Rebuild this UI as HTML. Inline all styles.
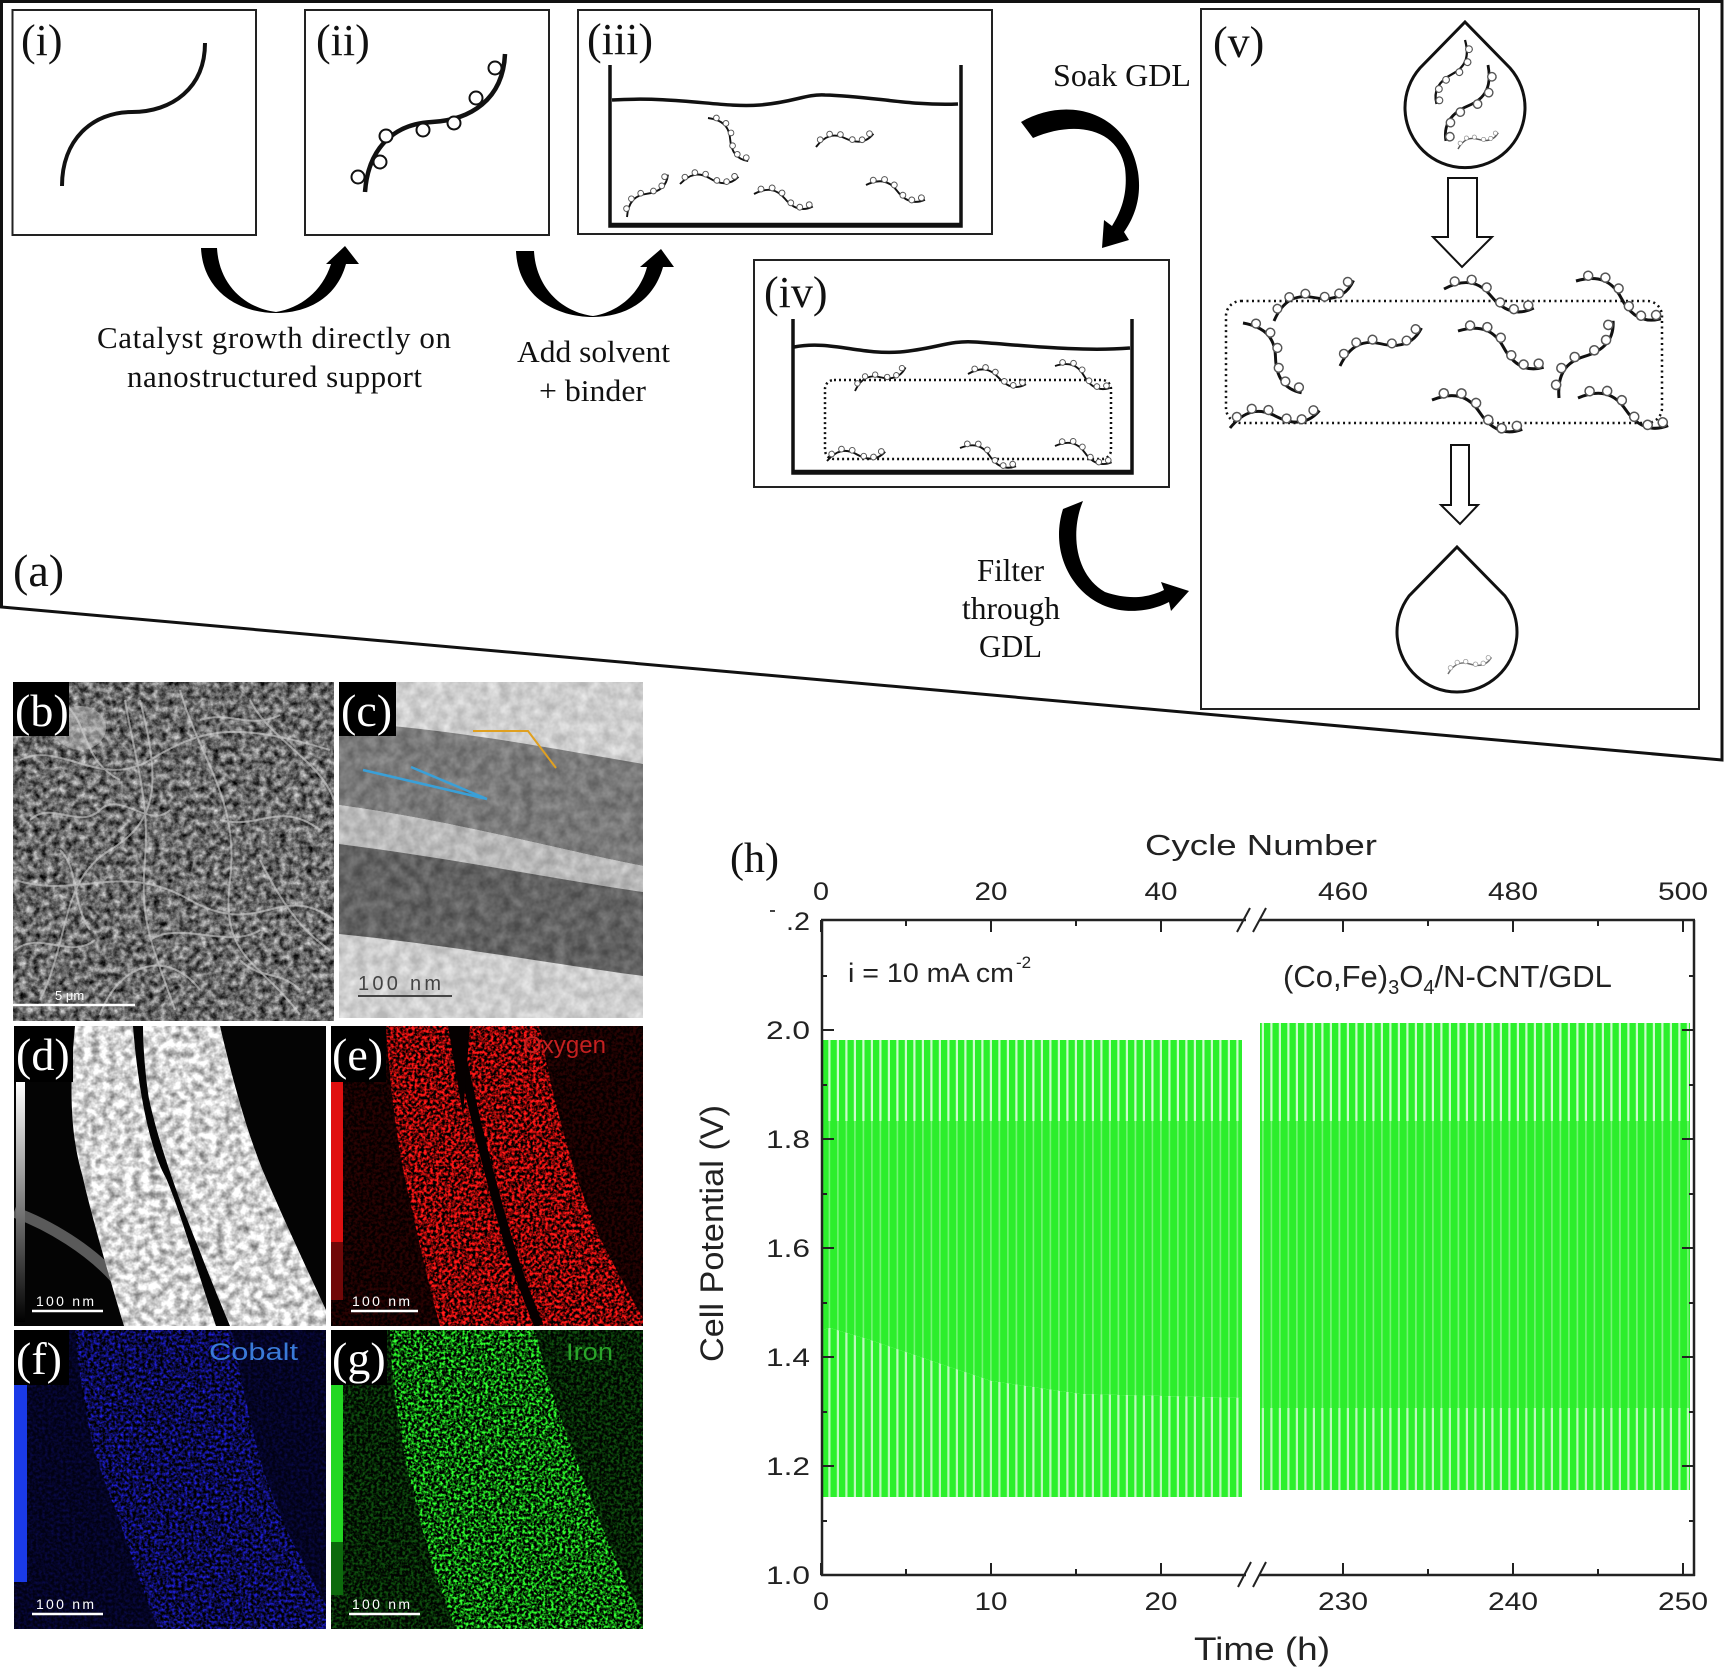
<!DOCTYPE html>
<html><head><meta charset="utf-8"><style>
html,body{margin:0;padding:0;background:#fff;}
svg{display:block;}
.serif{font-family:"Liberation Serif",serif;}
.sans{font-family:"Liberation Sans",sans-serif;}
</style></head><body>
<svg width="1725" height="1680" viewBox="0 0 1725 1680" xmlns="http://www.w3.org/2000/svg">
<defs>
  <filter id="fSem" x="0" y="0" width="1" height="1" color-interpolation-filters="sRGB"><feTurbulence type="fractalNoise" baseFrequency="0.15" numOctaves="4" seed="5"/><feColorMatrix type="matrix" values="1.1 0 0 0 -0.13  1.1 0 0 0 -0.13  1.1 0 0 0 -0.13  0 0 0 0 1"/></filter>
  <filter id="fGray" x="0" y="0" width="1" height="1" color-interpolation-filters="sRGB"><feTurbulence type="fractalNoise" baseFrequency="0.09" numOctaves="3" seed="9"/><feColorMatrix type="matrix" values="1.4 0 0 0 -0.25  1.4 0 0 0 -0.25  1.4 0 0 0 -0.25  0 0 0 0 1"/></filter>
  <filter id="fLight" x="0" y="0" width="1" height="1" color-interpolation-filters="sRGB"><feTurbulence type="fractalNoise" baseFrequency="0.12" numOctaves="3" seed="11"/><feColorMatrix type="matrix" values="1.0 0 0 0 0.33  1.0 0 0 0 0.33  1.0 0 0 0 0.33  0 0 0 0 1"/></filter>
  <filter id="fRed" x="0" y="0" width="1" height="1" color-interpolation-filters="sRGB"><feTurbulence type="fractalNoise" baseFrequency="0.33" numOctaves="2" seed="2"/><feColorMatrix type="matrix" values="3.2 0 0 0 -1.15  0.3 0 0 0 -0.12  0.3 0 0 0 -0.12  0 0 0 0 1"/></filter>
  <filter id="fBlue" x="0" y="0" width="1" height="1" color-interpolation-filters="sRGB"><feTurbulence type="fractalNoise" baseFrequency="0.33" numOctaves="2" seed="4"/><feColorMatrix type="matrix" values="0 0 0.3 0 -0.1  0 0 0.3 0 -0.1  0 0 2.2 0 -0.8  0 0 0 0 1"/></filter>
  <filter id="fGreen" x="0" y="0" width="1" height="1" color-interpolation-filters="sRGB"><feTurbulence type="fractalNoise" baseFrequency="0.35" numOctaves="2" seed="7"/><feColorMatrix type="matrix" values="0 0.6 0 0 -0.25  0 3.2 0 0 -1.25  0 0.6 0 0 -0.25  0 0 0 0 1"/></filter>
  <clipPath id="cb"><rect x="13" y="682" width="321" height="339"/></clipPath>
  <clipPath id="cc"><rect x="339" y="682" width="304" height="336"/></clipPath>
  <clipPath id="cd"><rect x="14" y="1026" width="312" height="300"/></clipPath>
  <clipPath id="ce"><rect x="331" y="1026" width="312" height="300"/></clipPath>
  <clipPath id="cf"><rect x="14" y="1330" width="312" height="299"/></clipPath>
  <clipPath id="cg"><rect x="331" y="1330" width="312" height="299"/></clipPath>
  <clipPath id="cdTubes"><path d="M75,1026 L133,1026 C138,1090 150,1150 166,1178 C180,1210 200,1280 216,1326 L124,1326 C110,1280 90,1210 83,1178 C72,1140 68,1100 75,1026 Z M143,1026 L220,1026 C228,1060 245,1130 266,1178 C282,1215 305,1265 326,1310 L326,1326 L230,1326 C215,1290 205,1265 199,1249 C185,1215 160,1150 149,1099 C146,1080 143,1050 143,1026 Z"/></clipPath>
  <clipPath id="ceBand"><path d="M386,1026 L540,1026 C548,1080 565,1140 577,1178 C590,1215 600,1240 610,1257 C622,1280 635,1305 643,1318 L643,1326 L440,1326 C430,1290 422,1255 419,1241 C410,1200 400,1160 398,1139 C392,1100 388,1060 386,1026 Z"/></clipPath>
  <clipPath id="cfBand"><path d="M75,1330 L232,1330 C245,1400 255,1445 265,1475 C278,1510 290,1540 299,1554 C310,1575 320,1595 326,1605 L326,1629 L158,1629 C145,1595 132,1560 124,1534 C112,1500 100,1470 95,1455 C85,1410 78,1370 75,1330 Z"/></clipPath>
  <clipPath id="cgBand"><path d="M390,1330 L535,1330 C545,1370 552,1395 560,1415 C570,1445 580,1470 589,1494 C605,1535 622,1575 640,1612 L643,1629 L456,1629 C440,1590 425,1545 419,1514 C410,1480 402,1450 398,1415 C394,1390 391,1360 390,1330 Z"/></clipPath>
  <g id="cnt">
    <path d="M0,0 C12,-10 22,-10 32,-2 C42,6 52,8 62,0" stroke="#111" stroke-width="2" fill="none"/>
    <g fill="#fff" stroke="#555" stroke-width="1">
      <circle cx="6" cy="-6.5" r="3"/><circle cx="17" cy="-10" r="3"/><circle cx="28" cy="-7" r="3"/><circle cx="39" cy="1" r="3"/><circle cx="49" cy="3.5" r="3"/><circle cx="58" cy="-1" r="3"/>
    </g>
  </g>
  <pattern id="pTop" x="822" y="0" width="8.5" height="10" patternUnits="userSpaceOnUse"><rect width="8.5" height="10" fill="#2cf02c"/><rect x="6.3" width="2.2" height="10" fill="#cdfccd"/></pattern>
  <pattern id="pMid" x="822" y="0" width="8.5" height="10" patternUnits="userSpaceOnUse"><rect width="8.5" height="10" fill="#2cee2c"/><rect x="6.6" width="1.6" height="10" fill="#74f474"/></pattern>
  <pattern id="pBot" x="822" y="0" width="8.5" height="10" patternUnits="userSpaceOnUse"><rect width="8.5" height="10" fill="#2cf02c"/><rect x="6.3" width="2.2" height="10" fill="#bdf9bd"/></pattern>
  <linearGradient id="gGray" x1="0" y1="0" x2="0" y2="1"><stop offset="0" stop-color="#fff"/><stop offset="1" stop-color="#000"/></linearGradient>
</defs>

<rect width="1725" height="1680" fill="#fff"/>

<!-- ===== Top diagram (a) ===== -->
<path d="M1.5,1.5 L1722,1.5 L1722,760 L1.5,607 Z" fill="none" stroke="#111" stroke-width="3"/>

<g fill="none" stroke="#222" stroke-width="2">
  <rect x="12.5" y="10" width="243.5" height="225"/>
  <rect x="305" y="10" width="244" height="225"/>
  <rect x="578" y="10" width="414" height="224"/>
  <rect x="754" y="260" width="415" height="227"/>
  <rect x="1201" y="9" width="498" height="700"/>
</g>

<g class="serif" font-size="44" fill="#111">
  <text x="21" y="55">(i)</text>
  <text x="316" y="55">(ii)</text>
  <text x="587" y="54">(iii)</text>
  <text x="764" y="307">(iv)</text>
  <text x="1213" y="57">(v)</text>
  <text x="13" y="586" font-size="46">(a)</text>
</g>

<path d="M62,186 C62,140 92,112 132,112 C172,112 205,88 205,43" fill="none" stroke="#111" stroke-width="4"/>
<path d="M365,192 C368,150 392,124 432,122 C470,120 503,100 505,54" fill="none" stroke="#111" stroke-width="4.5"/>
<g fill="#fff" stroke="#111" stroke-width="2">
  <circle cx="358" cy="177" r="6.5"/><circle cx="380" cy="162" r="6.5"/><circle cx="386" cy="136" r="6.5"/><circle cx="423" cy="130" r="6.5"/><circle cx="454" cy="123" r="6.5"/><circle cx="476" cy="98" r="6.5"/><circle cx="495" cy="68" r="6.5"/>
</g>

<polyline points="610,65 610,226 961,226 961,65" fill="none" stroke="#111" stroke-width="3.5"/>
<line x1="610" y1="225" x2="961" y2="225" stroke="#111" stroke-width="4.5"/>
<path d="M612,100 C680,96 720,108 760,105 C795,102 805,94 825,95 C870,96 910,106 958,104" fill="none" stroke="#111" stroke-width="3.5"/>
<use href="#cnt" transform="translate(708,118) rotate(47) scale(0.95)"/>
<use href="#cnt" transform="translate(816,147) rotate(-13) scale(0.95)"/>
<use href="#cnt" transform="translate(627,217) rotate(-46) scale(0.95)"/>
<use href="#cnt" transform="translate(680,184) rotate(-7) scale(0.95)"/>
<use href="#cnt" transform="translate(754,194) rotate(12) scale(0.97)"/>
<use href="#cnt" transform="translate(866,185) rotate(14) scale(0.98)"/>

<polyline points="793,319 793,473 1132,473 1132,319" fill="none" stroke="#111" stroke-width="3.5"/>
<line x1="793" y1="472" x2="1132" y2="472" stroke="#111" stroke-width="4.5"/>
<path d="M794,347 C830,340 860,355 900,352 C935,349 950,340 975,342 C1020,345 1080,352 1130,348" fill="none" stroke="#111" stroke-width="3.5"/>
<rect x="825" y="380" width="286" height="79" rx="9" fill="none" stroke="#111" stroke-width="2.5" stroke-dasharray="2 3"/>
<use href="#cnt" transform="translate(855,391) rotate(-25) scale(0.9)"/>
<use href="#cnt" transform="translate(968,374) rotate(10) scale(0.95)"/>
<use href="#cnt" transform="translate(1055,366) rotate(22) scale(0.95)"/>
<use href="#cnt" transform="translate(827,461) rotate(-9) scale(0.95)"/>
<use href="#cnt" transform="translate(960,448) rotate(18) scale(0.95)"/>
<use href="#cnt" transform="translate(1055,446) rotate(16) scale(0.95)"/>

<path d="M1465,22 L1510,68 A60,60 0 1 1 1420,68 Z" fill="none" stroke="#111" stroke-width="3"/>
<use href="#cnt" transform="translate(1465,40) rotate(114) scale(1.13)"/>
<use href="#cnt" transform="translate(1488,65) rotate(119) scale(1.4)"/>
<use href="#cnt" transform="translate(1458,149) rotate(-22) scale(0.7)" opacity="0.7"/>
<polygon points="1448,178 1477,178 1477,237 1492,237 1462,267 1433,237 1448,237" fill="#fff" stroke="#111" stroke-width="2"/>
<rect x="1226" y="301" width="436" height="122" rx="15" fill="none" stroke="#111" stroke-width="2.5" stroke-dasharray="2 3.5"/>
<use href="#cnt" transform="translate(1274,321) rotate(-27) scale(1.44)"/>
<use href="#cnt" transform="translate(1444,289) rotate(12) scale(1.48)"/>
<use href="#cnt" transform="translate(1576,281) rotate(24) scale(1.5)"/>
<use href="#cnt" transform="translate(1243,323) rotate(50) scale(1.47)"/>
<use href="#cnt" transform="translate(1340,366) rotate(-25) scale(1.45)"/>
<use href="#cnt" transform="translate(1458,331) rotate(23) scale(1.5)"/>
<use href="#cnt" transform="translate(1559,398) rotate(-55) scale(1.52)"/>
<use href="#cnt" transform="translate(1230,428) rotate(-11) scale(1.47)"/>
<use href="#cnt" transform="translate(1432,400) rotate(18) scale(1.53)"/>
<use href="#cnt" transform="translate(1578,398) rotate(17) scale(1.52)"/>
<polygon points="1451,445 1469,445 1469,505 1478,505 1460,524 1441,505 1451,505" fill="#fff" stroke="#111" stroke-width="2"/>
<path d="M1457,547 L1505,596 A60,60 0 1 1 1409,596 Z" fill="none" stroke="#111" stroke-width="3"/>
<use href="#cnt" transform="translate(1448,674) rotate(-21) scale(0.75)" opacity="0.6"/>

<g fill="#000">
  <path d="M201,248 L217,248 C219,285 245,308 276,312 C300,308 322,292 331,264 L326,264 L345,246 L359,264 L346,264 C336,300 305,313 276,313 C240,313 203,292 201,248 Z"/>
  <path d="M516,251 L534,251 C536,288 562,312 593,316 C618,312 640,294 647,267 L640,267 L661,249 L674,267 L663,267 C653,303 623,317 593,317 C555,317 518,296 516,251 Z"/>
  <path d="M1021,122 C1068,95 1128,112 1138,172 C1142,198 1134,218 1124,232 L1129,240 L1102,248 L1104,220 L1112,226 C1122,210 1128,192 1125,168 C1118,128 1075,120 1033,138 Z"/>
  <path d="M1063,509 L1083,501 C1070,532 1075,575 1105,592 C1128,600 1148,598 1164,590 L1161,582 L1189,591 L1171,611 L1169,602 C1150,612 1125,614 1105,606 C1070,592 1050,550 1063,509 Z"/>
</g>

<g class="serif" fill="#111">
  <text x="97" y="348" font-size="31" textLength="354" lengthAdjust="spacing">Catalyst growth directly on</text>
  <text x="127" y="387" font-size="31" textLength="295" lengthAdjust="spacing">nanostructured support</text>
  <text x="517" y="362" font-size="31" textLength="153" lengthAdjust="spacingAndGlyphs">Add solvent</text>
  <text x="539" y="401" font-size="31" textLength="107" lengthAdjust="spacingAndGlyphs">+ binder</text>
  <text x="1053" y="86" font-size="32" textLength="138" lengthAdjust="spacingAndGlyphs">Soak GDL</text>
  <text x="977" y="581" font-size="32" textLength="67" lengthAdjust="spacingAndGlyphs">Filter</text>
  <text x="962" y="619" font-size="32" textLength="98" lengthAdjust="spacingAndGlyphs">through</text>
  <text x="979" y="657" font-size="32" textLength="63" lengthAdjust="spacingAndGlyphs">GDL</text>
</g>

<!-- ===== (b) SEM ===== -->
<g clip-path="url(#cb)">
  <rect x="13" y="682" width="321" height="339" filter="url(#fSem)"/>
  <ellipse cx="80" cy="728" rx="26" ry="22" fill="#c8c8c8" opacity="0.5"/>
  <g fill="none" stroke="#d0d0d0" stroke-width="2" opacity="0.6">
    <path d="M20,760 C60,740 100,790 150,760 S230,720 330,750"/>
    <path d="M40,1000 C70,940 60,880 110,850 S160,780 140,700"/>
    <path d="M180,690 C200,760 240,800 230,880 S260,960 300,1015"/>
    <path d="M15,880 C80,900 120,860 190,900 S280,880 334,920"/>
    <path d="M250,700 C270,740 320,760 334,800"/>
    <path d="M60,700 C90,720 80,760 120,780"/>
    <path d="M100,1015 C120,960 170,950 200,990"/>
    <path d="M220,820 C260,830 280,800 320,830"/>
    <path d="M30,820 C50,800 80,830 100,810 S150,830 170,810"/>
    <path d="M150,940 C180,920 230,950 260,930"/>
    <path d="M125,700 C135,760 150,800 145,860 S150,940 175,1010"/>
    <path d="M260,860 C280,900 300,930 330,950"/>
    <path d="M15,950 C40,930 70,960 95,940"/>
    <path d="M200,720 C230,710 250,730 280,715"/>
    <path d="M60,850 C80,870 70,900 90,930"/>
    <path d="M240,960 C260,980 280,970 300,990"/>
  </g>
</g>
<rect x="13" y="682" width="56" height="54" fill="#000"/>
<text x="15" y="726" class="serif" font-size="46" fill="#fff">(b)</text>
<line x1="13" y1="1005" x2="135" y2="1005" stroke="#fff" stroke-width="2.5"/>
<text x="55" y="1000" class="sans" font-size="13" fill="#fff">5 μm</text>

<!-- ===== (c) TEM ===== -->
<g clip-path="url(#cc)">
  <rect x="339" y="682" width="304" height="336" fill="#e6e6e6"/>
  <path d="M339,722 C450,728 560,750 643,764 L643,866 C560,850 450,820 339,805 Z" fill="#7c7c7c"/>
  <path d="M339,805 C450,820 560,850 643,866 L643,892 C560,880 450,858 339,844 Z" fill="#cbcbcb"/>
  <path d="M339,844 C450,858 560,880 643,892 L643,976 C560,965 450,945 339,934 Z" fill="#5e5e5e"/>
  <rect x="339" y="682" width="304" height="336" filter="url(#fGray)" opacity="0.2"/>
  <polyline points="473,731 528,731 556,768" fill="none" stroke="#e0a020" stroke-width="2"/>
  <path d="M363,770 L487,799 L411,767" fill="none" stroke="#3aa0d8" stroke-width="2.5"/>
</g>
<rect x="339" y="682" width="57" height="54" fill="#000"/>
<text x="341" y="726" class="serif" font-size="46" fill="#fff">(c)</text>
<text x="358" y="990" class="sans" font-size="20" fill="#444" textLength="83" lengthAdjust="spacing">100 nm</text>
<line x1="358" y1="996" x2="452" y2="996" stroke="#444" stroke-width="2"/>

<!-- ===== (d) ===== -->
<g clip-path="url(#cd)">
  <rect x="14" y="1026" width="312" height="300" fill="#040404"/>
  <path d="M14,1212 C50,1225 90,1250 115,1278" fill="none" stroke="#5a5a5a" stroke-width="11"/>
  <g clip-path="url(#cdTubes)">
    <rect x="14" y="1026" width="312" height="300" filter="url(#fLight)"/>
  </g>
</g>
<rect x="16" y="1082" width="9" height="240" fill="url(#gGray)"/>
<rect x="14" y="1026" width="59" height="56" fill="#000"/>
<text x="16" y="1070" class="serif" font-size="46" fill="#fff">(d)</text>
<line x1="32" y1="1311" x2="103" y2="1311" stroke="#fff" stroke-width="2.5"/>
<text x="36" y="1306" class="sans" font-size="14" fill="#fff" textLength="58" lengthAdjust="spacing">100 nm</text>

<!-- ===== (e) ===== -->
<g clip-path="url(#ce)">
  <rect x="331" y="1026" width="312" height="300" fill="#050000"/>
  <rect x="331" y="1026" width="312" height="300" filter="url(#fRed)" opacity="0.15"/>
  <g clip-path="url(#ceBand)"><rect x="331" y="1026" width="312" height="300" filter="url(#fRed)"/></g>
  <path d="M456,1026 C470,1100 485,1160 505,1230 C515,1265 528,1300 539,1326" fill="none" stroke="#050000" stroke-width="9"/>
  <path d="M448,1026 L470,1026 L463,1115 Z" fill="#050000"/>
</g>
<rect x="331" y="1082" width="12" height="160" fill="#e01010"/>
<rect x="331" y="1242" width="12" height="58" fill="#700808"/>
<rect x="331" y="1026" width="55" height="56" fill="#000"/>
<text x="332" y="1070" class="serif" font-size="46" fill="#fff">(e)</text>
<text x="523" y="1053" class="sans" font-size="24" fill="#c42020" textLength="83" lengthAdjust="spacingAndGlyphs">Oxygen</text>
<line x1="351" y1="1311" x2="418" y2="1311" stroke="#fff" stroke-width="2.5"/>
<text x="352" y="1306" class="sans" font-size="14" fill="#fff" textLength="58" lengthAdjust="spacing">100 nm</text>

<!-- ===== (f) ===== -->
<g clip-path="url(#cf)">
  <rect x="14" y="1330" width="312" height="299" fill="#02021a"/>
  <rect x="14" y="1330" width="312" height="299" filter="url(#fBlue)" opacity="0.2"/>
  <g clip-path="url(#cfBand)"><rect x="14" y="1330" width="312" height="299" filter="url(#fBlue)" opacity="0.9"/></g>
</g>
<rect x="14" y="1372" width="13" height="210" fill="#1a3ae8"/>
<rect x="14" y="1330" width="55" height="55" fill="#000"/>
<text x="16" y="1374" class="serif" font-size="46" fill="#fff">(f)</text>
<text x="209" y="1360" class="sans" font-size="24" fill="#3a7ad8" textLength="89" lengthAdjust="spacingAndGlyphs">Cobalt</text>
<line x1="32" y1="1614" x2="103" y2="1614" stroke="#fff" stroke-width="2.5"/>
<text x="36" y="1609" class="sans" font-size="14" fill="#fff" textLength="58" lengthAdjust="spacing">100 nm</text>

<!-- ===== (g) ===== -->
<g clip-path="url(#cg)">
  <rect x="331" y="1330" width="312" height="299" fill="#020602"/>
  <rect x="331" y="1330" width="312" height="299" filter="url(#fGreen)" opacity="0.3"/>
  <g clip-path="url(#cgBand)"><rect x="331" y="1330" width="312" height="299" filter="url(#fGreen)"/></g>
</g>
<rect x="331" y="1372" width="12" height="170" fill="#22d822"/>
<rect x="331" y="1542" width="12" height="53" fill="#0c6a0c"/>
<rect x="331" y="1330" width="56" height="55" fill="#000"/>
<text x="332" y="1374" class="serif" font-size="46" fill="#fff">(g)</text>
<text x="566" y="1360" class="sans" font-size="24" fill="#2aa52a" textLength="47" lengthAdjust="spacingAndGlyphs">Iron</text>
<line x1="349" y1="1614" x2="420" y2="1614" stroke="#fff" stroke-width="2.5"/>
<text x="352" y="1609" class="sans" font-size="14" fill="#fff" textLength="58" lengthAdjust="spacing">100 nm</text>

<!-- ===== (h) chart ===== -->
<rect x="822" y="1040" width="420" height="82" fill="url(#pTop)"/>
<polygon points="822,1121 1242,1121 1242,1398 1080,1394 991,1381 870,1340 830,1328 822,1330" fill="url(#pMid)"/>
<polygon points="822,1330 830,1328 870,1340 991,1381 1080,1394 1242,1398 1242,1497 822,1497" fill="url(#pBot)"/>
<rect x="821" y="1098" width="3" height="385" fill="#2cf02c"/>
<rect x="1260" y="1023" width="430" height="99" fill="url(#pTop)"/>
<rect x="1260" y="1121" width="430" height="288" fill="url(#pMid)"/>
<rect x="1260" y="1408" width="430" height="82" fill="url(#pBot)"/>

<g stroke="#222" stroke-width="2.5" fill="none">
  <line x1="822" y1="920" x2="822" y2="1576"/>
  <line x1="1694" y1="920" x2="1694" y2="1576"/>
  <line x1="821" y1="920" x2="1246" y2="920"/>
  <line x1="1259" y1="920" x2="1695" y2="920"/>
  <line x1="821" y1="1575" x2="1246" y2="1575"/>
  <line x1="1259" y1="1575" x2="1695" y2="1575"/>
</g>
<g stroke="#222" stroke-width="2">
  <line x1="1237" y1="932" x2="1250" y2="908"/><line x1="1253" y1="932" x2="1266" y2="908"/>
  <line x1="1238" y1="1587" x2="1251" y2="1562"/><line x1="1253" y1="1587" x2="1266" y2="1562"/>
</g>
<g stroke="#222" stroke-width="2">
  <line x1="821" y1="1575" x2="821" y2="1563"/><line x1="991" y1="1575" x2="991" y2="1563"/><line x1="1161" y1="1575" x2="1161" y2="1563"/>
  <line x1="1343" y1="1575" x2="1343" y2="1563"/><line x1="1513" y1="1575" x2="1513" y2="1563"/><line x1="1683" y1="1575" x2="1683" y2="1563"/>
  <line x1="906" y1="1575" x2="906" y2="1569"/><line x1="1076" y1="1575" x2="1076" y2="1569"/><line x1="1428" y1="1575" x2="1428" y2="1569"/><line x1="1598" y1="1575" x2="1598" y2="1569"/>
  <line x1="821" y1="920" x2="821" y2="932"/><line x1="991" y1="920" x2="991" y2="932"/><line x1="1161" y1="920" x2="1161" y2="932"/>
  <line x1="1343" y1="920" x2="1343" y2="932"/><line x1="1513" y1="920" x2="1513" y2="932"/><line x1="1683" y1="920" x2="1683" y2="932"/>
  <line x1="906" y1="920" x2="906" y2="926"/><line x1="1076" y1="920" x2="1076" y2="926"/><line x1="1428" y1="920" x2="1428" y2="926"/><line x1="1598" y1="920" x2="1598" y2="926"/>
  <line x1="822" y1="1466" x2="834" y2="1466"/><line x1="822" y1="1357" x2="834" y2="1357"/><line x1="822" y1="1248" x2="834" y2="1248"/><line x1="822" y1="1139" x2="834" y2="1139"/><line x1="822" y1="1030" x2="834" y2="1030"/>
  <line x1="822" y1="1521" x2="827" y2="1521"/><line x1="822" y1="1412" x2="827" y2="1412"/><line x1="822" y1="1303" x2="827" y2="1303"/><line x1="822" y1="1194" x2="827" y2="1194"/><line x1="822" y1="1085" x2="827" y2="1085"/><line x1="822" y1="976" x2="827" y2="976"/>
  <line x1="1694" y1="1466" x2="1682" y2="1466"/><line x1="1694" y1="1357" x2="1682" y2="1357"/><line x1="1694" y1="1248" x2="1682" y2="1248"/><line x1="1694" y1="1139" x2="1682" y2="1139"/><line x1="1694" y1="1030" x2="1682" y2="1030"/>
  <line x1="1694" y1="1521" x2="1689" y2="1521"/><line x1="1694" y1="1412" x2="1689" y2="1412"/><line x1="1694" y1="1303" x2="1689" y2="1303"/><line x1="1694" y1="1194" x2="1689" y2="1194"/><line x1="1694" y1="1085" x2="1689" y2="1085"/><line x1="1694" y1="976" x2="1689" y2="976"/>
</g>

<g class="sans" fill="#222" font-size="25">
  <text x="810" y="1584" text-anchor="end" textLength="44" lengthAdjust="spacingAndGlyphs">1.0</text>
  <text x="810" y="1475" text-anchor="end" textLength="44" lengthAdjust="spacingAndGlyphs">1.2</text>
  <text x="810" y="1366" text-anchor="end" textLength="44" lengthAdjust="spacingAndGlyphs">1.4</text>
  <text x="810" y="1257" text-anchor="end" textLength="44" lengthAdjust="spacingAndGlyphs">1.6</text>
  <text x="810" y="1148" text-anchor="end" textLength="44" lengthAdjust="spacingAndGlyphs">1.8</text>
  <text x="810" y="1039" text-anchor="end" textLength="44" lengthAdjust="spacingAndGlyphs">2.0</text>
  <text x="810" y="930" text-anchor="end" textLength="24" lengthAdjust="spacingAndGlyphs">.2</text>
  <text x="821" y="1610" text-anchor="middle" textLength="16" lengthAdjust="spacingAndGlyphs">0</text>
  <text x="991" y="1610" text-anchor="middle" textLength="33" lengthAdjust="spacingAndGlyphs">10</text>
  <text x="1161" y="1610" text-anchor="middle" textLength="33" lengthAdjust="spacingAndGlyphs">20</text>
  <text x="1343" y="1610" text-anchor="middle" textLength="50" lengthAdjust="spacingAndGlyphs">230</text>
  <text x="1513" y="1610" text-anchor="middle" textLength="50" lengthAdjust="spacingAndGlyphs">240</text>
  <text x="1683" y="1610" text-anchor="middle" textLength="50" lengthAdjust="spacingAndGlyphs">250</text>
  <text x="821" y="900" text-anchor="middle" textLength="16" lengthAdjust="spacingAndGlyphs">0</text>
  <text x="991" y="900" text-anchor="middle" textLength="33" lengthAdjust="spacingAndGlyphs">20</text>
  <text x="1161" y="900" text-anchor="middle" textLength="33" lengthAdjust="spacingAndGlyphs">40</text>
  <text x="1343" y="900" text-anchor="middle" textLength="50" lengthAdjust="spacingAndGlyphs">460</text>
  <text x="1513" y="900" text-anchor="middle" textLength="50" lengthAdjust="spacingAndGlyphs">480</text>
  <text x="1683" y="900" text-anchor="middle" textLength="50" lengthAdjust="spacingAndGlyphs">500</text>
  <text x="1145" y="855" font-size="29" textLength="232" lengthAdjust="spacingAndGlyphs">Cycle Number</text>
  <text x="1194" y="1660" font-size="32" textLength="136" lengthAdjust="spacingAndGlyphs">Time (h)</text>
  <text transform="translate(723,1362) rotate(-90)" font-size="32" textLength="257" lengthAdjust="spacingAndGlyphs">Cell Potential (V)</text>
  <text x="848" y="982" font-size="27" textLength="166" lengthAdjust="spacingAndGlyphs">i = 10 mA cm</text>
  <text x="1016" y="968" font-size="17">-2</text>
  <text x="1283" y="987" font-size="31">(Co,Fe)<tspan font-size="20" dy="7">3</tspan><tspan dy="-7">O</tspan><tspan font-size="20" dy="7">4</tspan><tspan dy="-7">/N-CNT/GDL</tspan></text>
</g>
<line x1="770" y1="911" x2="775" y2="911" stroke="#444" stroke-width="2"/>
<text x="730" y="872" class="serif" font-size="42" fill="#111">(h)</text>
</svg>
</body></html>
